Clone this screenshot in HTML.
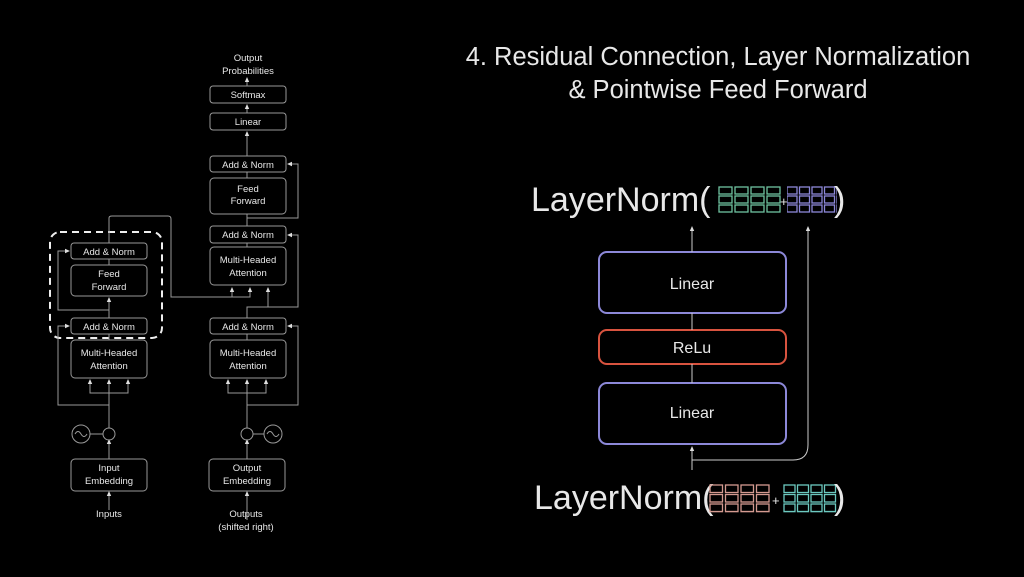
<!DOCTYPE html>
<html><head><meta charset="utf-8"><style>
html,body{margin:0;padding:0;background:#000;width:1024px;height:577px;overflow:hidden}
svg{display:block}
text{font-family:"Liberation Sans",sans-serif;fill:#e8e8e8}
</style></head><body>
<svg width="1024" height="577" viewBox="0 0 1024 577" xmlns="http://www.w3.org/2000/svg">
<defs>
<marker id="a" markerWidth="6" markerHeight="6" refX="3" refY="3" orient="auto"><path d="M0,0.8 L5,3 L0,5.2z" fill="#ddd"/></marker>
<pattern id="pg" patternUnits="userSpaceOnUse" x="718" y="186" width="16" height="9"><rect x="1" y="1" width="13" height="7" fill="none" stroke="#6fc2a0" stroke-width="1.3"/></pattern>
<pattern id="pb" patternUnits="userSpaceOnUse" x="786" y="186" width="12.5" height="9"><rect x="1" y="1" width="10" height="7" fill="none" stroke="#8c88d8" stroke-width="1.3"/></pattern>
<pattern id="pp" patternUnits="userSpaceOnUse" x="709" y="484" width="15.5" height="9.5"><rect x="1" y="1" width="12.5" height="7.5" fill="none" stroke="#d49a90" stroke-width="1.3"/></pattern>
<pattern id="pt" patternUnits="userSpaceOnUse" x="783" y="484" width="13.5" height="9.5"><rect x="1" y="1" width="11" height="7.5" fill="none" stroke="#6cc9c0" stroke-width="1.3"/></pattern>
</defs>
<rect width="1024" height="577" fill="#000"/>

<g fill="none" stroke="#999" stroke-width="1">
 <rect x="71" y="243" width="76" height="16" rx="3"/>
 <rect x="71" y="265" width="76" height="31" rx="4"/>
 <rect x="71" y="318" width="76" height="16" rx="3"/>
 <rect x="71" y="340" width="76" height="38" rx="4"/>
 <rect x="71" y="459" width="76" height="32" rx="4"/>
 <rect x="210" y="86" width="76" height="17" rx="3"/>
 <rect x="210" y="113" width="76" height="17" rx="3"/>
 <rect x="210" y="156" width="76" height="16" rx="3"/>
 <rect x="210" y="178" width="76" height="36" rx="4"/>
 <rect x="210" y="226" width="76" height="17" rx="3"/>
 <rect x="210" y="247" width="76" height="38" rx="4"/>
 <rect x="210" y="318" width="76" height="16" rx="3"/>
 <rect x="210" y="340" width="76" height="38" rx="4"/>
 <rect x="209" y="459" width="76" height="32" rx="4"/>
 <rect x="50" y="232" width="112" height="106" rx="10" stroke="#eee" stroke-width="2" stroke-dasharray="7,5"/>
 <line x1="109" y1="510" x2="109" y2="493" marker-end="url(#a)"/>
 <line x1="109" y1="459" x2="109" y2="441" marker-end="url(#a)"/>
 <circle cx="109" cy="434" r="6"/>
 <circle cx="81" cy="434" r="9"/>
 <path d="M75,434 q3,-5 6,0 t6,0"/>
 <line x1="90" y1="434" x2="103" y2="434"/>
 <line x1="109" y1="428" x2="109" y2="381" marker-end="url(#a)"/>
 <path d="M109,393 H90 V381" marker-end="url(#a)"/>
 <path d="M109,393 H128 V381" marker-end="url(#a)"/>
 <path d="M109,405 H58 V326 H68" marker-end="url(#a)"/>
 <line x1="109" y1="340" x2="109" y2="334"/>
 <line x1="109" y1="318" x2="109" y2="299" marker-end="url(#a)"/>
 <path d="M109,310 H58 V251 H68" marker-end="url(#a)"/>
 <line x1="109" y1="265" x2="109" y2="259"/>
 <path d="M109,243 V218 Q109,216 112,216 H168 Q171,216 171,219 V297 H232 V289" marker-end="url(#a)"/>
 <path d="M171,297 H250 V289" marker-end="url(#a)"/>
 <line x1="247" y1="520" x2="247" y2="493" marker-end="url(#a)"/>
 <line x1="247" y1="459" x2="247" y2="441" marker-end="url(#a)"/>
 <circle cx="247" cy="434" r="6"/>
 <circle cx="273" cy="434" r="9"/>
 <path d="M267,434 q3,-5 6,0 t6,0"/>
 <line x1="253" y1="434" x2="264" y2="434"/>
 <line x1="247" y1="428" x2="247" y2="381" marker-end="url(#a)"/>
 <path d="M247,393 H228 V381" marker-end="url(#a)"/>
 <path d="M247,393 H266 V381" marker-end="url(#a)"/>
 <path d="M247,405 H298 V326 H289" marker-end="url(#a)"/>
 <line x1="247" y1="340" x2="247" y2="334"/>
 <path d="M247,318 V307 H268 V289" marker-end="url(#a)"/>
 <path d="M268,307 H298 V235 H289" marker-end="url(#a)"/>
 <line x1="247" y1="247" x2="247" y2="243"/>
 <line x1="247" y1="226" x2="247" y2="214"/>
 <path d="M247,218 H298 V164 H289" marker-end="url(#a)"/>
 <line x1="247" y1="178" x2="247" y2="172"/>
 <line x1="247" y1="156" x2="247" y2="133" marker-end="url(#a)"/>
 <line x1="247" y1="113" x2="247" y2="106" marker-end="url(#a)"/>
 <line x1="247" y1="86" x2="247" y2="79" marker-end="url(#a)"/>
</g>
<g font-size="9.5" text-anchor="middle">
 <text x="248" y="61">Output</text>
 <text x="248" y="74">Probabilities</text>
 <text x="248" y="98">Softmax</text>
 <text x="248" y="125">Linear</text>
 <text x="248" y="168">Add &amp; Norm</text>
 <text x="248" y="192">Feed</text>
 <text x="248" y="204">Forward</text>
 <text x="248" y="238">Add &amp; Norm</text>
 <text x="248" y="263">Multi-Headed</text>
 <text x="248" y="276">Attention</text>
 <text x="248" y="330">Add &amp; Norm</text>
 <text x="248" y="356">Multi-Headed</text>
 <text x="248" y="369">Attention</text>
 <text x="247" y="471">Output</text>
 <text x="247" y="484">Embedding</text>
 <text x="246" y="517">Outputs</text>
 <text x="246" y="530">(shifted right)</text>
 <text x="109" y="255">Add &amp; Norm</text>
 <text x="109" y="277">Feed</text>
 <text x="109" y="290">Forward</text>
 <text x="109" y="330">Add &amp; Norm</text>
 <text x="109" y="356">Multi-Headed</text>
 <text x="109" y="369">Attention</text>
 <text x="109" y="471">Input</text>
 <text x="109" y="484">Embedding</text>
 <text x="109" y="517">Inputs</text>
</g>

<g font-size="25.5" text-anchor="middle">
 <text x="718" y="65">4. Residual Connection, Layer Normalization</text>
 <text x="718" y="98">&amp; Pointwise Feed Forward</text>
</g>
<text x="531" y="211" font-size="34">LayerNorm(</text>
<rect x="718" y="186" width="64" height="27" fill="url(#pg)"/>
<text x="780" y="206" font-size="13">+</text>
<rect x="787" y="186" width="50" height="27" fill="url(#pb)"/>
<text x="834" y="211" font-size="34">)</text>

<text x="534" y="509" font-size="34">LayerNorm(</text>
<rect x="709" y="484" width="62" height="29" fill="url(#pp)"/>
<text x="772" y="505" font-size="13">+</text>
<rect x="783" y="484" width="54" height="29" fill="url(#pt)"/>
<text x="834" y="509" font-size="34">)</text>

<g fill="none" stroke-width="2">
 <rect x="599" y="252" width="187" height="61" rx="8" stroke="#8c88d8"/>
 <rect x="599" y="330" width="187" height="34" rx="8" stroke="#d8533f"/>
 <rect x="599" y="383" width="187" height="61" rx="8" stroke="#8c88d8"/>
</g>
<g fill="none" stroke="#ccc" stroke-width="1">
 <line x1="692" y1="313" x2="692" y2="330"/>
 <line x1="692" y1="364" x2="692" y2="383"/>
 <line x1="692" y1="252" x2="692" y2="228" marker-end="url(#a)"/>
 <line x1="692" y1="470" x2="692" y2="448" marker-end="url(#a)"/>
 <path d="M692,460 H793 Q808,460 808,445 V228" marker-end="url(#a)"/>
</g>
<g font-size="16" text-anchor="middle">
 <text x="692" y="289">Linear</text>
 <text x="692" y="353">ReLu</text>
 <text x="692" y="418">Linear</text>
</g>
</svg>
</body></html>
